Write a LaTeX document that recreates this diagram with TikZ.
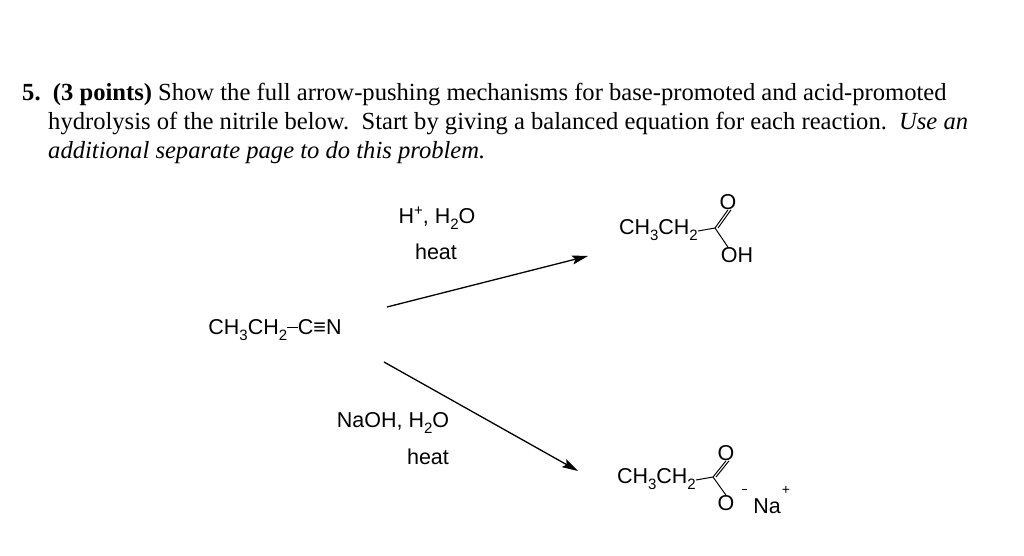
\documentclass[tikz,border=0pt]{standalone}
\usetikzlibrary{arrows.meta}
\usepackage{fontspec}
\setmainfont{Liberation Serif}
\newfontfamily\arial{Liberation Sans}
\newcommand{\chsub}[1]{\raisebox{-0.28em}{\fontsize{15}{15}\selectfont #1}}
\newcommand{\chsup}[1]{\raisebox{0.4em}{\fontsize{15}{15}\selectfont #1}}
\begin{document}
\begin{tikzpicture}[x=1pt,y=-1pt,
  chem/.style={font=\arial\fontsize{21.5}{24}\selectfont,inner sep=0pt},
  hdr/.style={font=\fontsize{24.6}{28}\selectfont,inner sep=0pt,anchor=base west},
  bond/.style={line width=1pt},
  rxn/.style={line width=1.3pt,-{Stealth[length=16pt,width=9pt,inset=3pt]}}]
\useasboundingbox (0,0) rectangle (1024,556);
\node[hdr] (l1) at (22,101) {\textbf{5.\ \ (3 points)}\ Show the full arrow-pushing mechanisms for base-promoted and acid-promoted};
\node[hdr] (l2) at (48,130) {hydrolysis of the nitrile below.\ \ Start by giving a balanced equation for each reaction.\ \ \textit{Use an}};
\node[hdr] (l3) at (48,159) {\textit{additional separate page to do this problem.}};
\node[chem] (nit) at (275,330) {CH\chsub{3}CH\chsub{2}\rule[0.3em]{0.5em}{0.8pt}C≡N};
\coordinate (a1) at (387,307); \coordinate (a2) at (588,256);
\coordinate (b1) at (384,362); \coordinate (b2) at (578,471);
\draw[rxn] (a1) -- (a2);
\draw[rxn] (b1) -- (b2);
\node[chem] (c1) at (437,218) {H\chsup{+}, H\chsub{2}O};
\node[chem] (c2) at (436,252) {heat};
\node[chem] (c3) at (393,423) {NaOH, H\chsub{2}O};
\node[chem] (c4) at (428,457) {heat};
% acid product
\node[chem,anchor=east] (e1) at (698,230) {CH\chsub{3}CH\chsub{2}};
\coordinate (v1) at (715,228);
\node[chem] (o1) at (728,202) {O};
\node[chem] (oh) at (737,255) {OH};
\draw[bond] ([yshift=-1pt]e1.east) -- (v1);
\draw[bond] (v1) -- (o1.south);
\draw[bond] ([xshift=3pt]v1) -- ([xshift=3pt]o1.south);
\draw[bond] (v1) -- ([xshift=-9pt]oh.north);
% base product
\node[chem,anchor=east] (e2) at (696,479) {CH\chsub{3}CH\chsub{2}};
\coordinate (v2) at (713,477);
\node[chem] (o2) at (726,453) {O};
\node[chem] (o3) at (726,503) {O};
\node[chem] (m) at (744,489) {\rule{5pt}{1pt}};
\node[chem,anchor=base] (na) at (767,513) {Na};
\node[chem,font=\arial\fontsize{14}{14}\selectfont] (p) at (786,490) {+};
\draw[bond] ([yshift=-1pt]e2.east) -- (v2);
\draw[bond] (v2) -- (o2.south);
\draw[bond] ([xshift=3pt]v2) -- ([xshift=3pt]o2.south);
\draw[bond] (v2) -- (o3.north);
\end{tikzpicture}
\end{document}
